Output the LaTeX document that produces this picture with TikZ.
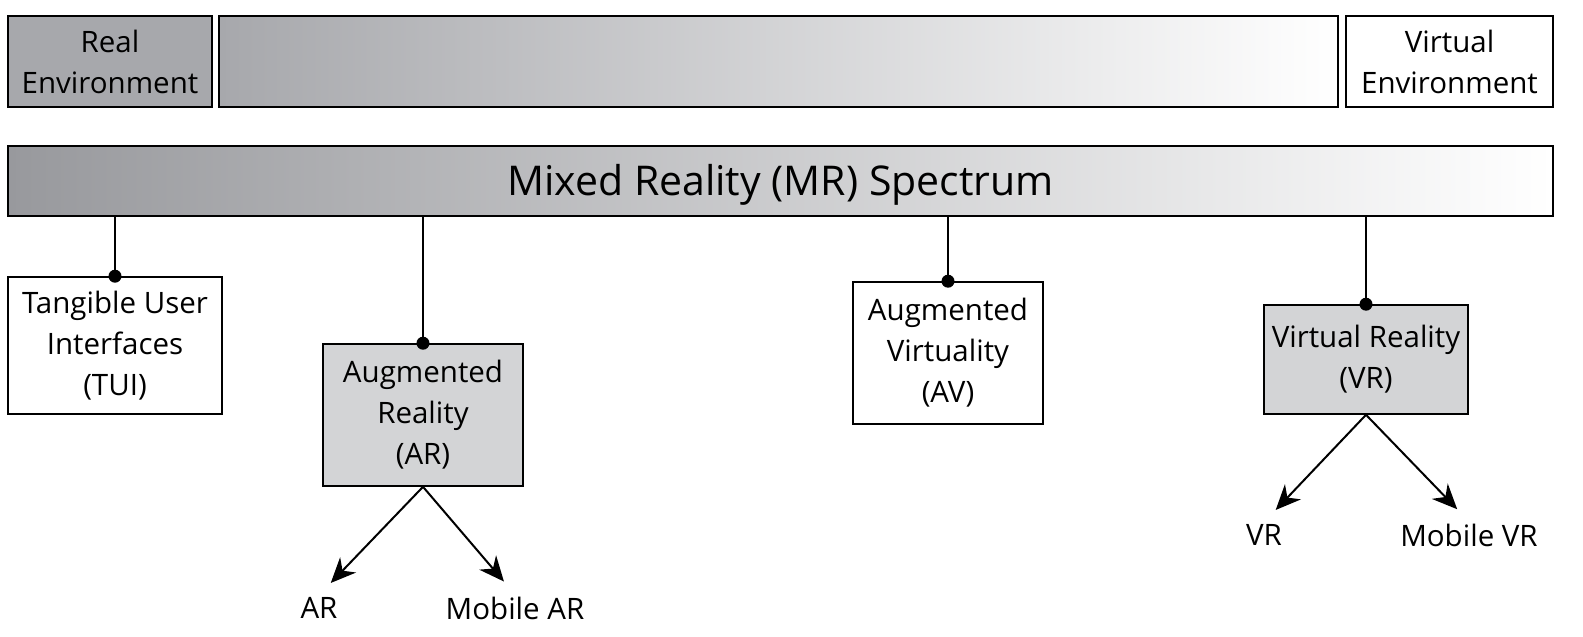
\documentclass[tikz,border=0pt]{standalone}
\usepackage{fontspec}
\setmainfont{Open Sans}
\usetikzlibrary{arrows.meta,positioning}
\definecolor{realgray}{RGB}{167,168,172}
\definecolor{bargray}{RGB}{152,153,157}
\definecolor{boxgray}{RGB}{211,212,214}

\begin{document}
\begin{tikzpicture}[x=1pt,y=-1pt,
  txt/.style={font=\fontsize{29.5}{41}\selectfont,align=center},
  envbox/.style={txt,draw,line width=1.6pt,inner sep=0pt,minimum height=91pt},
  catbox/.style={txt,draw,line width=1.6pt,inner sep=0pt},
  leaf/.style={txt,inner sep=2pt},
  stem/.style={line width=2.6pt},
  thinstem/.style={line width=1.3pt},
  arr/.style={line width=2pt,shorten >=17pt},
  tip/.tip={Stealth[length=25pt,width=22pt,inset=8pt]}]
  \useasboundingbox (0,0) rectangle (1583,637);

  % environments row
  \node[envbox,fill=realgray,minimum width=204pt] (real) at (110,61.5) {Real\\Environment};
  \node[envbox,left color=realgray,right color=white,minimum width=1119pt] (cont) at (778.5,61.5) {};
  \node[envbox,minimum width=207pt] (virt) at (1449.5,61.5) {Virtual\\Environment};

  % spectrum bar
  \node[catbox,left color=bargray,right color=white,minimum width=1545pt,minimum height=70pt,
        text height=31pt,text depth=2pt,font=\fontsize{41}{46}\selectfont] (mr) at (780.5,181) {Mixed Reality (MR) Spectrum};

  % categories
  \node[catbox,minimum width=214pt,minimum height=137pt] (tui) at (115,345.5) {Tangible User\\Interfaces\\(TUI)};
  \node[catbox,fill=boxgray,minimum width=200pt,minimum height=142pt] (ar) at (423,415) {Augmented\\Reality\\(AR)};
  \node[catbox,minimum width=190pt,minimum height=142pt] (av) at (948,353) {Augmented\\Virtuality\\(AV)};
  \node[catbox,fill=boxgray,minimum width=204pt,minimum height=109pt] (vr) at (1366,359.5) {Virtual Reality\\(VR)};

  % stems from the bar
  \draw[stem] (tui.north) -- (tui.north |- mr.south);
  \draw[thinstem] (ar.north) -- (ar.north |- mr.south);
  \draw[stem] (av.north) -- (av.north |- mr.south);
  \draw[thinstem] (vr.north) -- (vr.north |- mr.south);
  \foreach \b in {tui,ar,av,vr}
    \fill (\b.north) circle (6.5pt);

  % subtypes
  \node[leaf] (arL) at (319,608) {AR};
  \node[leaf] (marL) at (515,608) {Mobile AR};
  \node[leaf] (vrL) at (1264,535) {VR};
  \node[leaf] (mvrL) at (1469,535) {Mobile VR};
  \draw[arr,-tip] (ar.south) -- (arL.north);
  \draw[arr,-tip] (ar.south) -- (marL.north);
  \draw[arr,-tip] (vr.south) -- (vrL.north);
  \draw[arr,-tip] (vr.south) -- (mvrL.north);
\end{tikzpicture}
\end{document}
